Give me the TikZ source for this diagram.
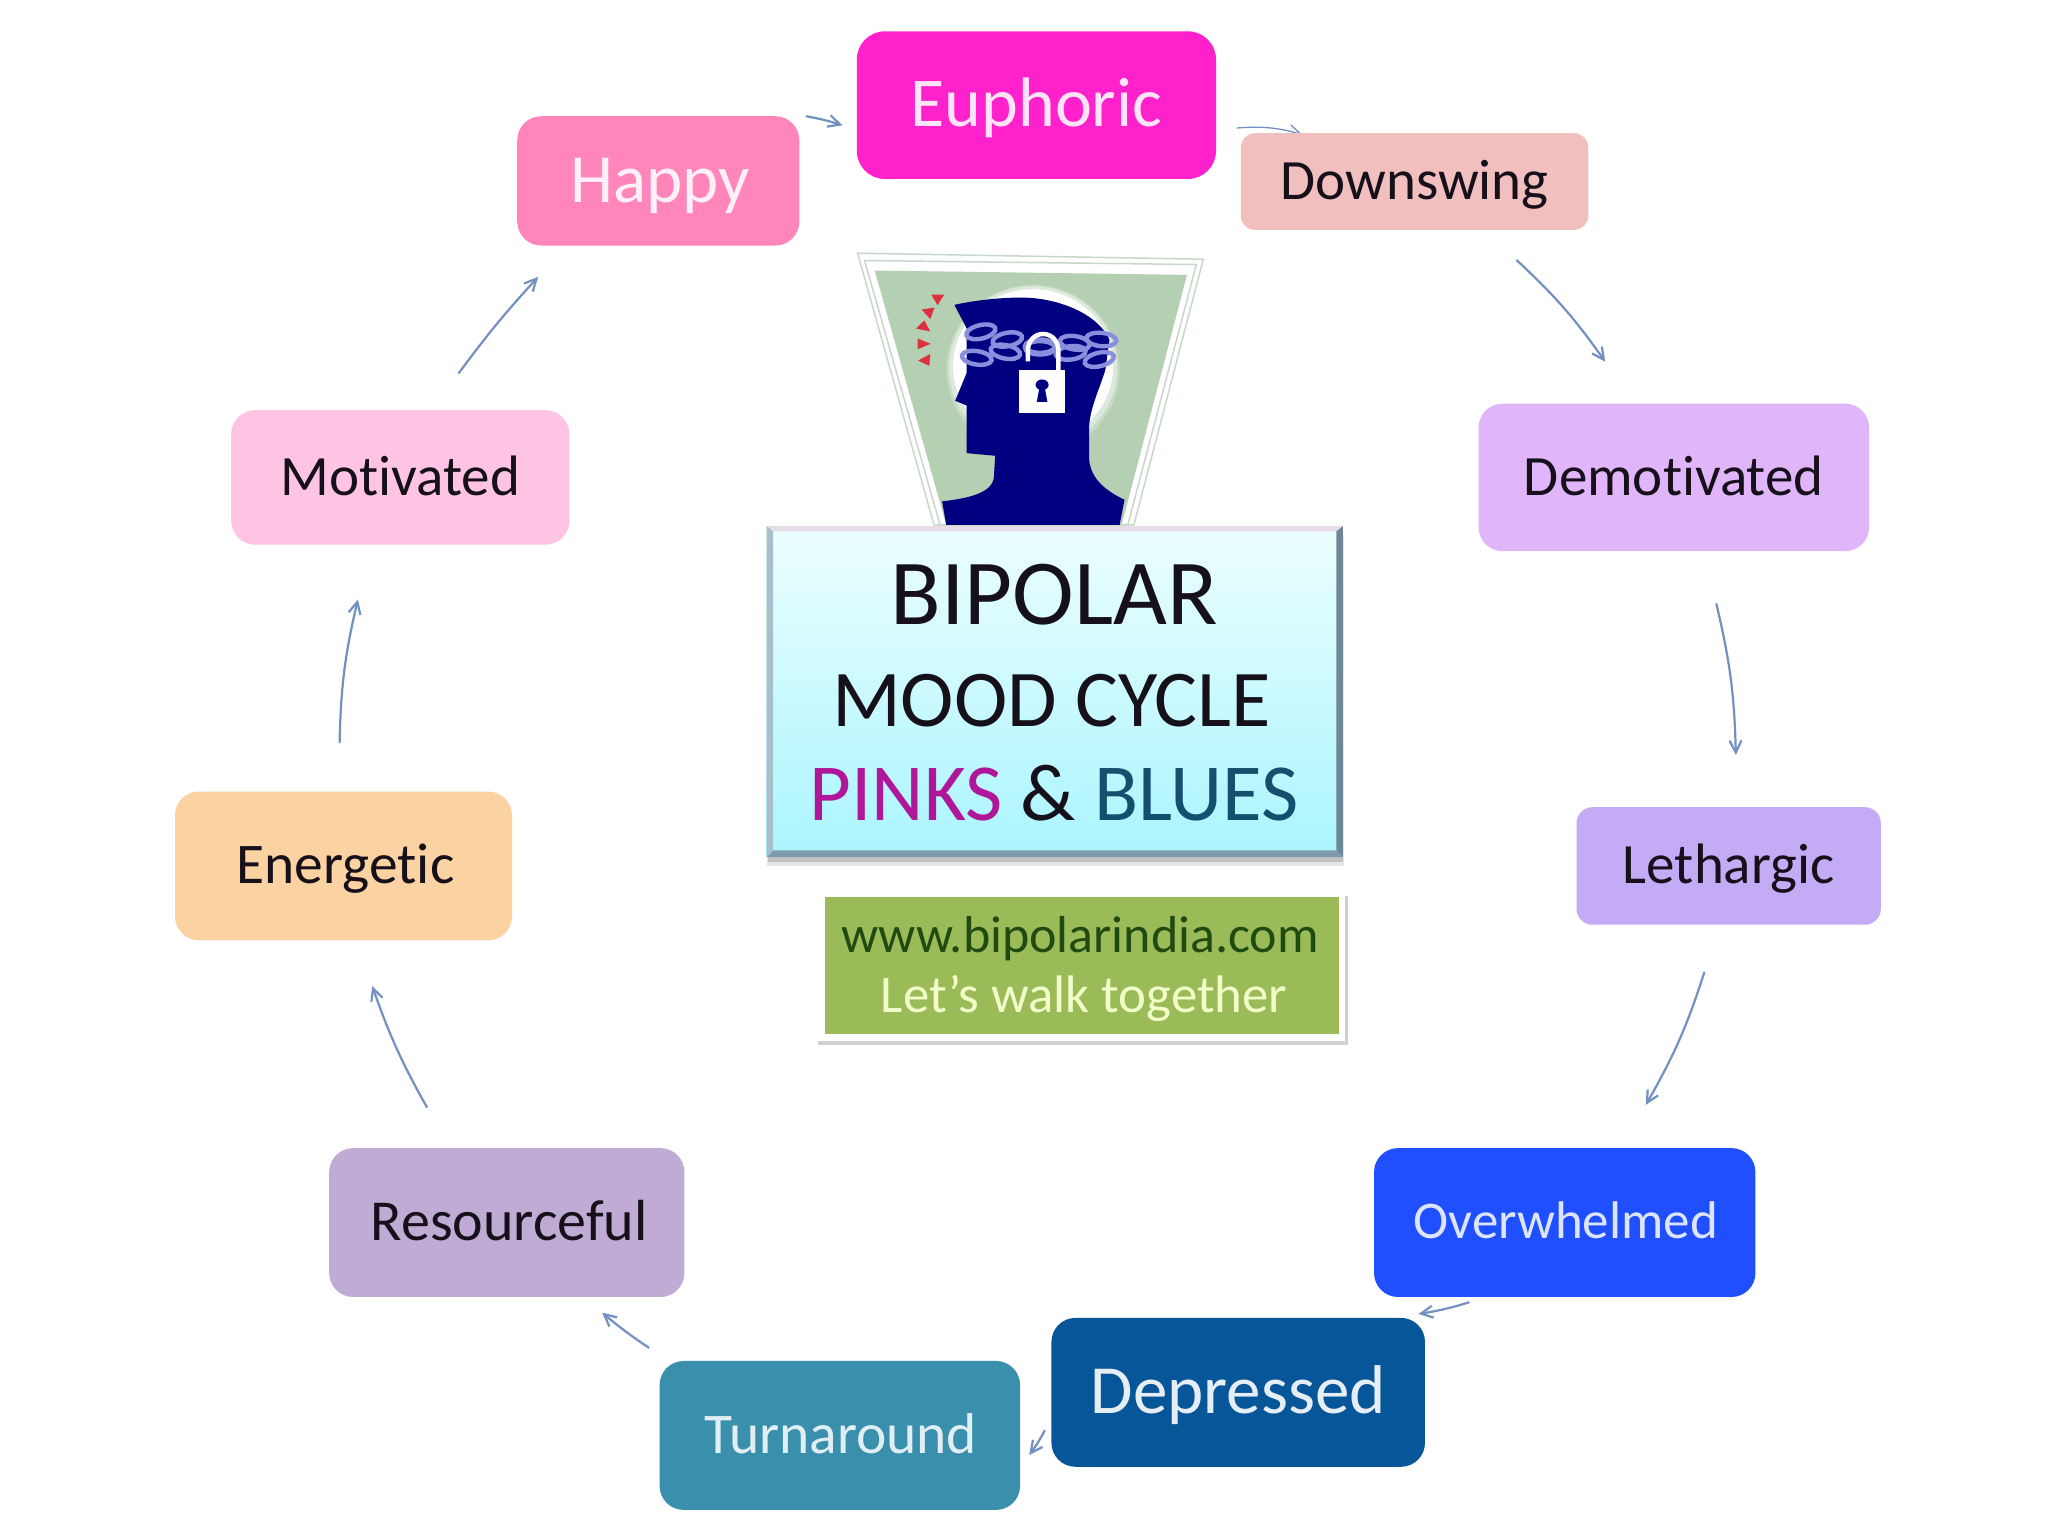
\documentclass[tikz,border=0pt]{standalone}
\usepackage{fontspec}
\setmainfont[Ligatures=NoCommon]{Carlito}
\usetikzlibrary{arrows.meta,calc}
\definecolor{arrowc}{HTML}{7391C0}
\definecolor{navyhead}{HTML}{000080}
\definecolor{chainc}{HTML}{8A8FDD}
\definecolor{euphc}{HTML}{FF22CC}
\definecolor{happyc}{HTML}{FF85BB}
\definecolor{downc}{HTML}{F2BFBF}
\definecolor{motic}{HTML}{FFC4E4}
\definecolor{democ}{HTML}{E1B5FA}
\definecolor{enerc}{HTML}{FBD2A2}
\definecolor{lethc}{HTML}{C3ABF5}
\definecolor{resoc}{HTML}{BFABD3}
\definecolor{overc}{HTML}{1F4FFF}
\definecolor{turnc}{HTML}{3A8FAD}
\definecolor{deprc}{HTML}{07569A}
\definecolor{darktxt}{HTML}{15101A}
\definecolor{frameg}{HTML}{C8D8C8}
\definecolor{fillg}{HTML}{B4CFB2}
\definecolor{redt}{HTML}{DE303E}
\definecolor{boxtop}{HTML}{ECFEFE}
\definecolor{boxbot}{HTML}{AAF5FF}
\definecolor{bevtop}{HTML}{E8DCE8}
\definecolor{bevright}{HTML}{6D8797}
\definecolor{bevbot}{HTML}{7F9CAC}
\definecolor{bevleft}{HTML}{A9C0CC}
\definecolor{pinkt}{HTML}{B0169A}
\definecolor{bluet}{HTML}{14506E}
\definecolor{panelg}{HTML}{9BBB59}
\definecolor{panelt}{HTML}{1F4A10}
\definecolor{panell}{HTML}{F3FFC8}
\tikzset{
  mood/.style n args={5}{draw=none,fill=#1,rounded corners=24pt,inner sep=0pt,
    minimum width=#2*1.30612pt,minimum height=#3*1.30612pt,
    text=#5,font=\fontsize{#4}{#4}\selectfont,
    execute at begin node={\rule[-.2em]{0pt}{1.02em}}},
  flow/.style={draw=arrowc,line width=2.2pt,-{Straight Barb[length=12pt,width=12pt]}},
  titletext/.style={inner sep=0pt,font=\fontsize{#1}{#1}\selectfont},
  link/.style={draw=chainc,line width=4.4pt}
}
\begin{document}
\begin{tikzpicture}[x=1.30612pt,y=-1.30612pt]
\useasboundingbox (0,0) rectangle (1568,1176);
\fill[white] (0,0) rectangle (1568,1176);
% connector end points
\coordinate (a1s) at (617,89);   \coordinate (a1e) at (645,96);
\coordinate (a2s) at (947,98);   \coordinate (a2e) at (997,103);
\coordinate (a3s) at (1161,199); \coordinate (a3e) at (1229,277);
\coordinate (a4s) at (1314,462); \coordinate (a4e) at (1329,578);
\coordinate (a5s) at (1305,744); \coordinate (a5e) at (1260,846);
\coordinate (a6s) at (1125,997); \coordinate (a6e) at (1086,1006);
\coordinate (a7s) at (800,1095); \coordinate (a7e) at (788,1114);
\coordinate (a8s) at (497,1032); \coordinate (a8e) at (461,1005);
\coordinate (a9s) at (327,848);  \coordinate (a9e) at (285,755);
\coordinate (a10s) at (260,569); \coordinate (a10e) at (274,459);
\coordinate (a11s) at (351,286); \coordinate (a11e) at (412,212);
\draw[flow] (a1s) to[bend left=4] (a1e);
\draw[flow,line width=1.3pt] (a2s) to[bend left=10] (a2e);
\draw[flow] (a3s) to[bend left=6] (a3e);
\draw[flow] (a4s) to[bend left=6] (a4e);
\draw[flow] (a5s) to[bend left=6] (a5e);
\draw[flow] (a6s) to[bend left=4] (a6e);
\draw[flow] (a7s) to[bend left=4] (a7e);
\draw[flow] (a8s) to[bend left=3] (a8e);
\draw[flow] (a9s) to[bend left=5] (a9e);
\draw[flow] (a10s) to[bend left=6] (a10e);
\draw[flow] (a11s) to[bend left=3] (a11e);
% mood boxes
\node[mood={euphc}{275}{113}{70}{white!88!euphc},rounded corners=28pt] (euphoric) at (793.5,80.5) {Euphoric};
\node[mood={happyc}{216}{99}{69}{white!88!happyc}] (happy) at (504,138.5) {\hspace*{4pt}Happy};
\node[mood={downc}{266}{74}{57}{darktxt},rounded corners=14pt] (downswing) at (1083,139) {Downswing};
\node[mood={motic}{259}{103}{57}{darktxt}] (motivated) at (306.5,365.5) {Motivated};
\node[mood={democ}{299}{113}{57}{darktxt}] (demotivated) at (1281.5,365.5) {Demotivated};
\node[mood={enerc}{258}{114}{57.5}{darktxt}] (energetic) at (263,663) {\hspace*{4pt}Energetic};
\node[mood={lethc}{233}{90}{57}{darktxt},rounded corners=16pt] (lethargic) at (1323.5,663) {Lethargic};
\node[mood={resoc}{272}{114}{58}{darktxt}] (resourceful) at (388,936) {\hspace*{5pt}Resourceful};
\node[mood={overc}{292}{114}{53}{white!85!overc}] (overwhelmed) at (1198,936) {\hspace*{2pt}Overwhelmed};
\node[mood={turnc}{276}{114}{57.5}{white!85!turnc}] (turnaround) at (643,1099) {\hspace*{2pt}Turnaround};
\node[mood={deprc}{286}{114}{69}{white!90!deprc}] (depressed) at (948,1066) {Depressed};
% head emblem, in a local frame
\begin{scope}[shift={(566.6,176)},xscale=.3125,yscale=.2551]
  \filldraw[fill=white,draw=frameg,line width=1.5pt]
    (288,70) -- (1135,88) -- (965,885) -- (475,885) -- cycle;
  \draw[frameg,line width=1.5pt]
    (305,92) -- (1118,104) -- (950,885) -- (490,885) -- cycle;
  \fill[fillg]
    (330,122) -- (1095,135) -- (935,885) -- (505,885) -- cycle;
  \fill[white!25!fillg] (718,420) ellipse [x radius=212,y radius=255];
  \fill[white!55!fillg] (718,415) ellipse [x radius=206,y radius=246];
  \fill[white] (718,410) ellipse [x radius=196,y radius=232];
  \fill[navyhead]
    (525,225) .. controls (600,205) and (680,200) .. (720,205)
    .. controls (800,215) and (880,260) .. (905,330) -- (895,420)
    .. controls (880,480) and (855,540) .. (855,600) -- (855,680)
    .. controls (855,740) and (890,780) .. (942,810) -- (930,885) -- (505,885)
    -- (495,815) .. controls (560,805) and (620,790) .. (622,740) -- (625,678)
    -- (555,670) -- (555,527) -- (527,513) -- (555,430) -- (555,295) -- cycle;
  \foreach \cx/\cy/\rr in {590/306/18,655/329/15,735/349/0,820/339/-12,885/329/-8,
                           580/384/-12,650/366/-15,735/354/0,810/369/10,880/389/18}{
    \draw[link,rotate around={\rr:(\cx,\cy)}] (\cx,\cy) ellipse [x radius=37,y radius=20];
  }
  \draw[white,line width=4.5pt] (705,395) -- (705,365) .. controls (705,295) and (780,295) .. (780,365) -- (780,422);
  \fill[white] (683,420) rectangle (797,550);
  \fill[navyhead] (740,465) circle [radius=16];
  \fill[navyhead] (734,470) -- (746,470) -- (753,516) -- (727,516) -- cycle;
  \foreach \tx/\ty/\ra in {484/208/0,463/250/10,452/293/50,449/342/90,457/388/150}{
    \fill[redt,rotate around={\ra:(\tx,\ty)}]
      (\tx-16,\ty-14) -- (\tx+16,\ty-14) -- (\tx,\ty+18) -- cycle;
  }
\end{scope}
% title box
\fill[black,opacity=.10] (587,410) rectangle (1029,663);
\fill[black,opacity=.16] (588,410) rectangle (1028,660);
\node[inner sep=0pt,top color=boxtop,bottom color=boxbot,
  minimum width=441*1.30612pt,minimum height=253*1.30612pt] (titlebox) at (807.5,529.5) {};
\fill[bevtop] (titlebox.north west) -- (titlebox.north east) -- ($(titlebox.north east)+(-5,4)$) -- ($(titlebox.north west)+(5,4)$) -- cycle;
\fill[bevright] (titlebox.north east) -- (titlebox.south east) -- ($(titlebox.south east)+(-5,-5)$) -- ($(titlebox.north east)+(-5,4)$) -- cycle;
\fill[bevbot] (titlebox.south west) -- (titlebox.south east) -- ($(titlebox.south east)+(-5,-5)$) -- ($(titlebox.south west)+(5,-5)$) -- cycle;
\fill[bevleft] (titlebox.north west) -- (titlebox.south west) -- ($(titlebox.south west)+(5,-5)$) -- ($(titlebox.north west)+(5,4)$) -- cycle;
\node[titletext=93,text=darktxt,anchor=base] (t1) at (807,478) {BIPOLAR};
\node[titletext=80.5,text=darktxt,anchor=base] (t2) at (805,556) {MOOD CYCLE};
\node[titletext=81,anchor=base] (t3) at (807,628) {\textcolor{pinkt}{PINKS} \textcolor{darktxt}{\&} \textcolor{bluet}{BLUES}};
% web panel
\fill[black,opacity=.18] (626,686) rectangle (1032,800);
\node[fill=white,inner sep=0pt,minimum width=404*1.30612pt,minimum height=113*1.30612pt] (panelout) at (828,740.5) {};
\node[fill=panelg,inner sep=0pt,minimum width=393*1.30612pt,minimum height=105*1.30612pt] (panel) at (828.5,739.5) {};
\node[titletext=52,text=panelt,anchor=base] (p1) at (827,729) {www.bipolarindia.com};
\node[titletext=52.8,text=panell,anchor=base] (p2) at (830,775) {Let’s walk together};
\end{tikzpicture}
\end{document}
